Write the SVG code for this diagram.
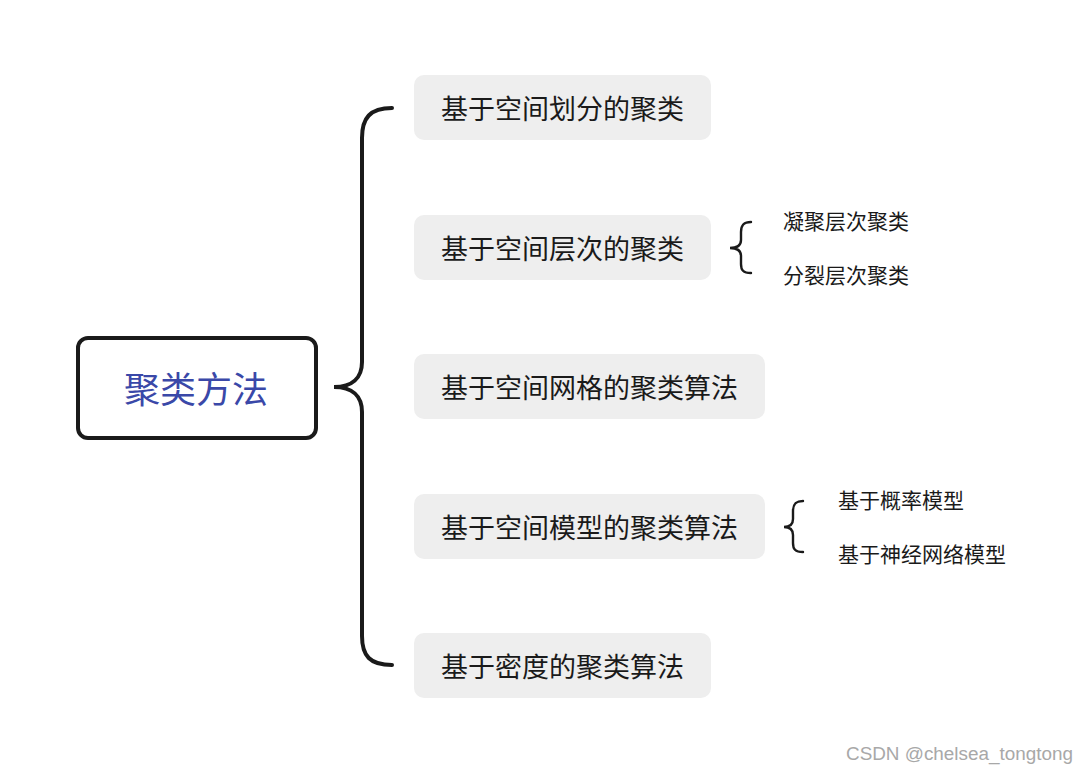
<svg xmlns="http://www.w3.org/2000/svg" width="1089" height="774" viewBox="0 0 1089 774">
<style>
.box{fill:#eeeeee;stroke:none}
.t{font-family:"Noto Sans CJK SC","Noto Sans",sans-serif;font-size:27px;fill:#1a1a1a;dominant-baseline:central}
.s{font-family:"Noto Sans CJK SC","Noto Sans",sans-serif;font-size:21px;fill:#1a1a1a;dominant-baseline:central}
.br{fill:none;stroke:#1a1a1a;stroke-width:4;stroke-linecap:round}
.sb{fill:none;stroke:#1a1a1a;stroke-width:2.4;stroke-linecap:round}
</style>
<rect width="1089" height="774" fill="#ffffff"/>
<g id="connectors">
<path class="br" d="M392,108 C370,108 362,118 362,138 L362,362 C362,378 352,387 334,387 C352,387 362,396 362,412 L362,636 C362,656 370,665 392,665"/>
<path class="sb" d="M751,222 C743,222 741,226 741,232 L741,240 C741,245 738,248 730,248 C738,248 741,251 741,256 L741,264 C741,270 743,273 751,273"/>
<path class="sb" d="M803,501 C795,501 793,505 793,511 L793,519 C793,524 790,527 784,527 C790,527 793,530 793,535 L793,543 C793,549 795,552 803,552"/>
</g>
<g id="root">
<rect x="78" y="338" width="238" height="100" rx="10" fill="#ffffff" stroke="#1a1a1a" stroke-width="4"/>
<text x="196" y="387" text-anchor="middle" font-family="Noto Sans CJK SC, sans-serif" font-size="36" fill="#3a48a8" dominant-baseline="central">聚类方法</text>
</g>
<g id="n1"><rect class="box" x="414" y="75" width="297" height="65" rx="10"/><text class="t" x="441" y="107">基于空间划分的聚类</text></g>
<g id="n2"><rect class="box" x="414" y="215" width="297" height="65" rx="10"/><text class="t" x="441" y="247">基于空间层次的聚类</text></g>
<g id="n2a"><text class="s" x="783" y="220">凝聚层次聚类</text></g>
<g id="n2b"><text class="s" x="783" y="274">分裂层次聚类</text></g>
<g id="n3"><rect class="box" x="414" y="354" width="351" height="65" rx="10"/><text class="t" x="441" y="386">基于空间网格的聚类算法</text></g>
<g id="n4"><rect class="box" x="414" y="494" width="351" height="65" rx="10"/><text class="t" x="441" y="526">基于空间模型的聚类算法</text></g>
<g id="n4a"><text class="s" x="838" y="499">基于概率模型</text></g>
<g id="n4b"><text class="s" x="838" y="553">基于神经网络模型</text></g>
<g id="n5"><rect class="box" x="414" y="633" width="297" height="65" rx="10"/><text class="t" x="441" y="665">基于密度的聚类算法</text></g>
<text x="846" y="754" font-family="Liberation Sans, Arial, sans-serif" font-size="18" fill="#a8a8a8" dominant-baseline="central" textLength="227" lengthAdjust="spacingAndGlyphs">CSDN @chelsea_tongtong</text>
</svg>
